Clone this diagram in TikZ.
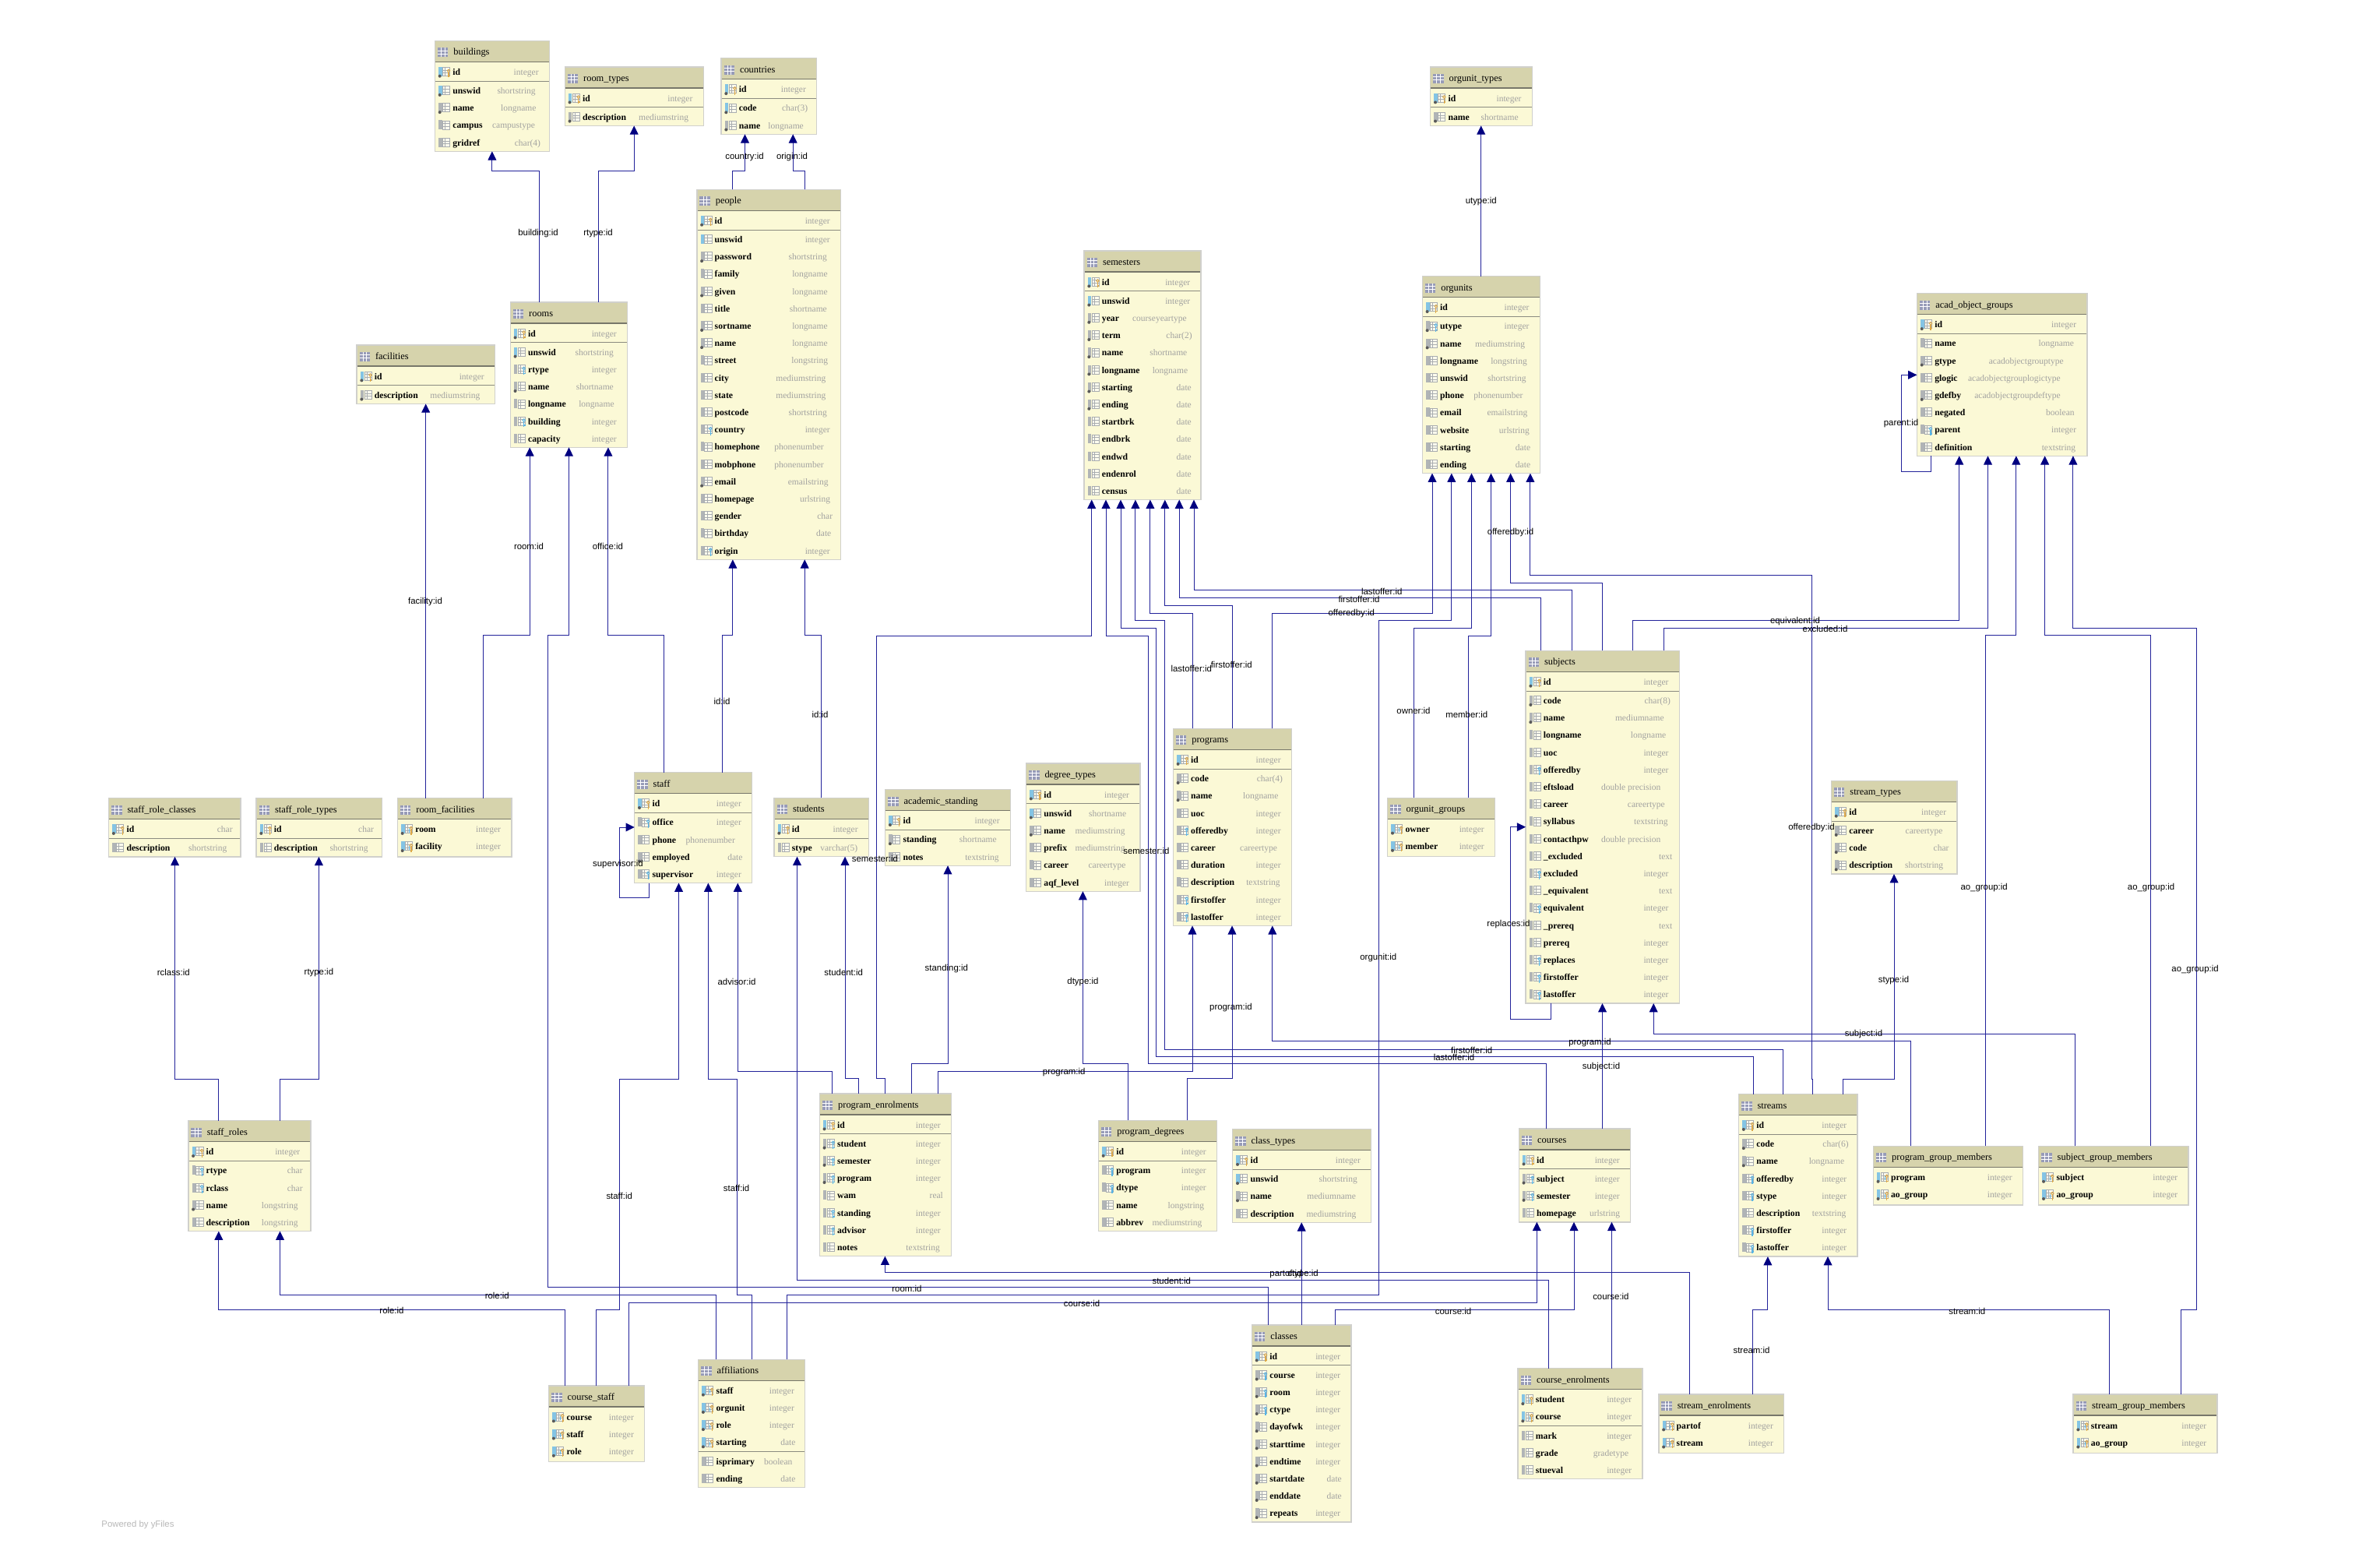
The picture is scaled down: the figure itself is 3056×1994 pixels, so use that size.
\documentclass[tikz,border=0pt]{standalone}
\usepackage{fontspec}
\setmainfont{Liberation Serif}
\newfontfamily\lblfont{Liberation Sans}
\usetikzlibrary{arrows.meta}
\definecolor{hdrc}{HTML}{D6D3AC}
\definecolor{bodyc}{HTML}{FBF9D6}
\definecolor{bordc}{HTML}{D0D0CC}
\definecolor{sepc}{HTML}{77776A}
\definecolor{navyc}{HTML}{22229A}
\definecolor{tipc}{HTML}{000080}
\definecolor{typec}{HTML}{A2A2A0}
\definecolor{barG}{HTML}{B0B4B6}
\definecolor{barB}{HTML}{84C4E4}
\definecolor{gridc}{HTML}{A8ACB0}
\definecolor{keyG}{HTML}{DCA848}
\definecolor{keyB}{HTML}{58B4E4}
\tikzset{
  tablebox/.style={draw=bordc,line width=.7pt,fill=bodyc,inner sep=0pt,outer sep=0pt,anchor=north west},
  titletext/.style={inner sep=0pt,anchor=base west,font=\fontsize{6.2}{7}\selectfont},
  colname/.style={inner sep=0pt,anchor=base west,font=\fontsize{5.85}{7}\selectfont\bfseries},
  coltype/.style={inner sep=0pt,anchor=base east,text=typec,font=\fontsize{5.75}{7}\selectfont},
  fk/.style={draw=navyc,line width=.5pt,-{Triangle[length=5.6pt,width=5.4pt,color=tipc]}},
  lbl/.style={inner sep=0pt,font=\lblfont\fontsize{5.7}{7}\selectfont},
}
\newcount\myrow
\newcount\mylab
\newcommand{\defoff}[2]{\expandafter\def\csname off@#1\endcsname{#2}}
\defoff{integer}{13.4}\defoff{shortstring}{17.3}\defoff{longname}{16.5}\defoff{campustype}{18}
\defoff{char(2)}{11}\defoff{char(3)}{11}\defoff{char(4)}{11}\defoff{char(6)}{11}\defoff{char(8)}{11}
\defoff{char}{10}\defoff{mediumstring}{18.8}\defoff{longstring}{16}\defoff{phonenumber}{21.4}
\defoff{emailstring}{15.6}\defoff{urlstring}{13}\defoff{date}{11.8}\defoff{mediumname}{19.2}
\defoff{double precision}{23.5}\defoff{careertype}{18}\defoff{textstring}{14.3}\defoff{text}{8.5}
\defoff{acadobjectgrouptype}{29.9}\defoff{acadobjectgrouplogictype}{33.7}\defoff{acadobjectgroupdeftype}{33.7}
\defoff{boolean}{15.9}\defoff{shortname}{17.3}\defoff{varchar(5)}{13.8}\defoff{real}{10.3}
\defoff{gradetype}{17.4}\defoff{courseyeartype}{18}
% icon pieces
\def\icgrid{\draw[gridc,fill=white,fill opacity=.6,line width=.25pt] (9.8,-6) rectangle (19,5);
  \draw[gridc,line width=.25pt] (9.8,-2.3)--(19,-2.3) (9.8,1.4)--(19,1.4) (13,-6)--(13,5);}
\def\icbarG{\fill[barG] (4.7,-6.5) rectangle (9.2,5.5);}
\def\icbarB{\fill[barB] (4.7,-6.5) rectangle (9.2,5.5);}
\def\icdot{\fill[black!65] (6.3,5.4) circle[radius=2];}
\def\ickeyG{\draw[keyG,line width=.45pt] (17.5,-1.5) circle[radius=1.8];
  \draw[keyG,line width=.6pt] (17.5,.3)--(17.5,7) (17.5,5)--(19.3,5);}
\def\ickeyB{\draw[keyB,line width=.45pt] (17.5,-1.5) circle[radius=1.8];
  \draw[keyB,line width=.6pt] (17.5,.3)--(17.5,7) (17.5,5)--(19.3,5);}
\def\ickeyBG{\draw[keyG,line width=.45pt] (17.5,-1.5) circle[radius=1.8];
  \draw[keyG,line width=.6pt] (17.5,.3)--(17.5,7) (17.5,5)--(19.3,5);
  \draw[keyB,line width=.5pt] (15,-1)--(15,4);}
\def\icP{\icbarB\icgrid\icdot\ickeyG}
\def\icK{\icbarB\icgrid\icdot\ickeyBG}
\def\icU{\icbarB\icgrid\icdot}
\def\icV{\icbarB\icgrid}
\def\icN{\icbarG\icgrid\icdot}
\def\icG{\icbarG\icgrid}
\def\icF{\icbarG\icgrid\ickeyB}
\def\icH{\icbarG\icgrid\icdot\ickeyB}
\newcommand{\rw}[3]{\global\advance\myrow by 1
  \pgfmathsetmacro\ry{\tabT+40+22.2*(\the\myrow-1)+(\the\myrow>\tabM?2:0)}
  \begin{scope}[shift={(\tabL,\ry)}]\csname ic#1\endcsname\end{scope}
  \node[colname] (\tabN-n\the\myrow) at ({\tabL+22.5},{\ry+4}) {#2};
  \node[coltype] (\tabN-t\the\myrow) at ({\tabR-\csname off@#3\endcsname},{\ry+4}) {#3};}
% name, left, right, top, title, rows, pk rows, row list
\newcommand{\tbl}[8]{\def\tabN{#1}\def\tabL{#2}\def\tabR{#3}\def\tabT{#4}\def\tabM{#7}
  \global\myrow=0
  \pgfmathsetmacro\tabW{#3-#2}\pgfmathsetmacro\tabH{27+22.2*#6+4}
  \node[tablebox,minimum width=\tabW*0.5pt,minimum height=\tabH*0.5pt] (#1) at (#2,#4) {};
  \fill[hdrc] ({#2+.7},{#4+.7}) rectangle ({#3-.7},{#4+27});
  \draw[sepc,line width=.6pt] ({#2+.7},{#4+27}) -- ({#3-.7},{#4+27});
  \ifnum#7<#6\relax
    \pgfmathsetmacro\sy{#4+27+13+22.2*(#7-1)+11.7}
    \draw[sepc!85,line width=.45pt] ({#2+.7},\sy) -- ({#3-.7},\sy);
  \fi
  \fill[gridc!90!blue] ({#2+3.5},{#4+9}) rectangle ({#2+17},{#4+21});
  \draw[white,line width=.25pt] ({#2+3.5},{#4+12.5})--({#2+17},{#4+12.5}) ({#2+3.5},{#4+16.7})--({#2+17},{#4+16.7})
     ({#2+8},{#4+9})--({#2+8},{#4+21}) ({#2+12.5},{#4+9})--({#2+12.5},{#4+21});
  \node[titletext] (#1-title) at ({#2+23.6},{#4+18.5}) {#5};
  #8}
\newcommand{\link}[5]{\draw[fk] (#2,0 |- #1.north) -- (#2,#3) -- (#4,#3) -- (#4,0 |- #5.south);}
\newcommand{\linkb}[7]{\draw[fk] (#2,0 |- #1.north) -- (#2,#3) -- (#4,#3) -- (#4,#5) -- (#6,#5) -- (#6,0 |- #7.south);}
\newcommand{\straight}[3]{\draw[fk] (#2,0 |- #1.north) -- (#2,0 |- #3.south);}
\newcommand{\selfloop}[5]{\draw[fk] (#2,0 |- #1.south) -- (#2,#3) -- (#4,#3) -- (#4,#5) -- (#1.west |- 0,#5);}
\newcommand{\lb}[3]{\global\advance\mylab by 1 \node[lbl] (lab\the\mylab) at (#1,#2) {#3};}
\begin{document}
\begin{tikzpicture}[x=0.5pt,y=-0.5pt]
\useasboundingbox (0,0) rectangle (3056,1994);
\fill[white] (0,0) rectangle (3056,1994);
\tbl{buildings}{558.4}{705.4}{52.3}{buildings}{5}{1}{\rw{P}{id}{integer}\rw{U}{unswid}{shortstring}\rw{N}{name}{longname}\rw{G}{campus}{campustype}\rw{G}{gridref}{char(4)}}
\tbl{roomtypes}{725.2}{903.2}{86}{room\_types}{2}{1}{\rw{P}{id}{integer}\rw{N}{description}{mediumstring}}
\tbl{countries}{926}{1048.7}{74.7}{countries}{3}{1}{\rw{P}{id}{integer}\rw{U}{code}{char(3)}\rw{N}{name}{longname}}
\tbl{people}{894.8}{1079.5}{243.3}{people}{20}{1}{\rw{P}{id}{integer}\rw{V}{unswid}{integer}\rw{N}{password}{shortstring}\rw{G}{family}{longname}\rw{N}{given}{longname}\rw{G}{title}{shortname}\rw{N}{sortname}{longname}\rw{N}{name}{longname}\rw{G}{street}{longstring}\rw{G}{city}{mediumstring}\rw{G}{state}{mediumstring}\rw{G}{postcode}{shortstring}\rw{F}{country}{integer}\rw{G}{homephone}{phonenumber}\rw{G}{mobphone}{phonenumber}\rw{N}{email}{emailstring}\rw{G}{homepage}{urlstring}\rw{G}{gender}{char}\rw{G}{birthday}{date}\rw{F}{origin}{integer}}
\tbl{rooms}{655.2}{805.5}{388}{rooms}{7}{1}{\rw{P}{id}{integer}\rw{U}{unswid}{shortstring}\rw{F}{rtype}{integer}\rw{N}{name}{shortname}\rw{G}{longname}{longname}\rw{F}{building}{integer}\rw{G}{capacity}{integer}}
\tbl{facilities}{458}{635.5}{443}{facilities}{2}{1}{\rw{P}{id}{integer}\rw{N}{description}{mediumstring}}
\tbl{srclasses}{139.6}{309}{1024.5}{staff\_role\_classes}{2}{1}{\rw{P}{id}{char}\rw{G}{description}{shortstring}}
\tbl{srtypes}{329}{490.4}{1024.5}{staff\_role\_types}{2}{1}{\rw{P}{id}{char}\rw{G}{description}{shortstring}}
\tbl{roomfac}{510.4}{656.8}{1024.5}{room\_facilities}{2}{2}{\rw{K}{room}{integer}\rw{K}{facility}{integer}}
\tbl{staff}{814.7}{965.7}{991.6}{staff}{5}{1}{\rw{P}{id}{integer}\rw{F}{office}{integer}\rw{G}{phone}{phonenumber}\rw{N}{employed}{date}\rw{F}{supervisor}{integer}}
\tbl{students}{994}{1115.4}{1024.3}{students}{2}{1}{\rw{P}{id}{integer}\rw{G}{stype}{varchar(5)}}
\tbl{acadstanding}{1136.6}{1297.4}{1013.6}{academic\_standing}{3}{1}{\rw{P}{id}{integer}\rw{N}{standing}{shortname}\rw{G}{notes}{textstring}}
\tbl{degreetypes}{1317.5}{1463.8}{980}{degree\_types}{6}{1}{\rw{P}{id}{integer}\rw{U}{unswid}{shortname}\rw{N}{name}{mediumstring}\rw{G}{prefix}{mediumstring}\rw{G}{career}{careertype}\rw{G}{aqf\_level}{integer}}
\tbl{programs}{1506.3}{1658.4}{935.4}{programs}{10}{1}{\rw{P}{id}{integer}\rw{N}{code}{char(4)}\rw{N}{name}{longname}\rw{G}{uoc}{integer}\rw{F}{offeredby}{integer}\rw{G}{career}{careertype}\rw{G}{duration}{integer}\rw{G}{description}{textstring}\rw{F}{firstoffer}{integer}\rw{F}{lastoffer}{integer}}
\tbl{semesters}{1392}{1542}{322}{semesters}{13}{1}{\rw{P}{id}{integer}\rw{U}{unswid}{integer}\rw{N}{year}{courseyeartype}\rw{N}{term}{char(2)}\rw{N}{name}{shortname}\rw{N}{longname}{longname}\rw{N}{starting}{date}\rw{N}{ending}{date}\rw{G}{startbrk}{date}\rw{G}{endbrk}{date}\rw{G}{endwd}{date}\rw{G}{endenrol}{date}\rw{G}{census}{date}}
\tbl{orgunittypes}{1836.7}{1967.3}{86}{orgunit\_types}{2}{1}{\rw{P}{id}{integer}\rw{N}{name}{shortname}}
\tbl{orgunits}{1826.3}{1977.3}{354.6}{orgunits}{10}{1}{\rw{P}{id}{integer}\rw{H}{utype}{integer}\rw{N}{name}{mediumstring}\rw{G}{longname}{longstring}\rw{G}{unswid}{shortstring}\rw{G}{phone}{phonenumber}\rw{G}{email}{emailstring}\rw{G}{website}{urlstring}\rw{G}{starting}{date}\rw{G}{ending}{date}}
\tbl{acad}{2461.4}{2679.9}{376.7}{acad\_object\_groups}{8}{1}{\rw{P}{id}{integer}\rw{G}{name}{longname}\rw{N}{gtype}{acadobjectgrouptype}\rw{G}{glogic}{acadobjectgrouplogictype}\rw{N}{gdefby}{acadobjectgroupdeftype}\rw{G}{negated}{boolean}\rw{F}{parent}{integer}\rw{G}{definition}{textstring}}
\tbl{ougroups}{1781.7}{1919.5}{1024.2}{orgunit\_groups}{2}{2}{\rw{K}{owner}{integer}\rw{K}{member}{integer}}
\tbl{subjects}{1959}{2156.2}{835.3}{subjects}{19}{1}{\rw{P}{id}{integer}\rw{N}{code}{char(8)}\rw{N}{name}{mediumname}\rw{G}{longname}{longname}\rw{G}{uoc}{integer}\rw{F}{offeredby}{integer}\rw{G}{eftsload}{double precision}\rw{G}{career}{careertype}\rw{G}{syllabus}{textstring}\rw{G}{contacthpw}{double precision}\rw{G}{\_excluded}{text}\rw{F}{excluded}{integer}\rw{G}{\_equivalent}{text}\rw{F}{equivalent}{integer}\rw{G}{\_prereq}{text}\rw{G}{prereq}{integer}\rw{F}{replaces}{integer}\rw{F}{firstoffer}{integer}\rw{F}{lastoffer}{integer}}
\tbl{streamtypes}{2351.4}{2512.9}{1002.3}{stream\_types}{4}{1}{\rw{P}{id}{integer}\rw{N}{career}{careertype}\rw{N}{code}{char}\rw{N}{description}{shortstring}}
\tbl{progenrol}{1052.2}{1221.6}{1404}{program\_enrolments}{8}{1}{\rw{P}{id}{integer}\rw{H}{student}{integer}\rw{H}{semester}{integer}\rw{H}{program}{integer}\rw{G}{wam}{real}\rw{F}{standing}{integer}\rw{F}{advisor}{integer}\rw{G}{notes}{textstring}}
\tbl{progdeg}{1410.4}{1562.6}{1438.4}{program\_degrees}{5}{1}{\rw{P}{id}{integer}\rw{F}{program}{integer}\rw{F}{dtype}{integer}\rw{G}{name}{longstring}\rw{G}{abbrev}{mediumstring}}
\tbl{classtypes}{1582.7}{1760.6}{1449.5}{class\_types}{4}{1}{\rw{P}{id}{integer}\rw{U}{unswid}{shortstring}\rw{N}{name}{mediumname}\rw{G}{description}{mediumstring}}
\tbl{courses}{1950.2}{2093.5}{1449}{courses}{4}{1}{\rw{P}{id}{integer}\rw{H}{subject}{integer}\rw{H}{semester}{integer}\rw{G}{homepage}{urlstring}}
\tbl{streams}{2232.5}{2385}{1404.5}{streams}{8}{1}{\rw{P}{id}{integer}\rw{N}{code}{char(6)}\rw{N}{name}{longname}\rw{F}{offeredby}{integer}\rw{F}{stype}{integer}\rw{G}{description}{textstring}\rw{F}{firstoffer}{integer}\rw{F}{lastoffer}{integer}}
\tbl{proggrp}{2405.2}{2597.5}{1471.4}{program\_group\_members}{2}{2}{\rw{K}{program}{integer}\rw{K}{ao\_group}{integer}}
\tbl{subjgrp}{2617.7}{2810}{1471.4}{subject\_group\_members}{2}{2}{\rw{K}{subject}{integer}\rw{K}{ao\_group}{integer}}
\tbl{streamgrp}{2662}{2847}{1790}{stream\_group\_members}{2}{2}{\rw{K}{stream}{integer}\rw{K}{ao\_group}{integer}}
\tbl{staffroles}{241.8}{399}{1438.6}{staff\_roles}{5}{1}{\rw{P}{id}{integer}\rw{F}{rtype}{char}\rw{F}{rclass}{char}\rw{N}{name}{longstring}\rw{G}{description}{longstring}}
\tbl{coursestaff}{704.6}{827.7}{1779}{course\_staff}{3}{3}{\rw{K}{course}{integer}\rw{K}{staff}{integer}\rw{K}{role}{integer}}
\tbl{affil}{896.6}{1033.7}{1745.3}{affiliations}{6}{4}{\rw{K}{staff}{integer}\rw{K}{orgunit}{integer}\rw{K}{role}{integer}\rw{K}{starting}{date}\rw{G}{isprimary}{boolean}\rw{G}{ending}{date}}
\tbl{classes}{1607.4}{1735}{1701}{classes}{10}{1}{\rw{P}{id}{integer}\rw{H}{course}{integer}\rw{H}{room}{integer}\rw{H}{ctype}{integer}\rw{N}{dayofwk}{integer}\rw{N}{starttime}{integer}\rw{N}{endtime}{integer}\rw{N}{startdate}{date}\rw{N}{enddate}{date}\rw{N}{repeats}{integer}}
\tbl{courseenrol}{1949}{2109}{1756.7}{course\_enrolments}{5}{2}{\rw{K}{student}{integer}\rw{K}{course}{integer}\rw{G}{mark}{integer}\rw{G}{grade}{gradetype}\rw{G}{stueval}{integer}}
\tbl{streamenrol}{2129.8}{2290.6}{1790}{stream\_enrolments}{2}{2}{\rw{K}{partof}{integer}\rw{K}{stream}{integer}}
% connectors
\link{rooms}{692.8}{219}{631.9}{buildings}
\link{rooms}{768.3}{219}{814.2}{roomtypes}
\link{people}{940.7}{219}{956.5}{countries}
\link{people}{1033.6}{219}{1018.2}{countries}
\straight{roomfac}{546.7}{facilities}
\straight{orgunits}{1901.7}{orgunittypes}
\link{roomfac}{620}{815.7}{680.2}{rooms}
\link{staff}{852}{815.7}{780.9}{rooms}
\link{staff}{927.9}{815.7}{940.9}{people}
\link{students}{1054}{815.7}{1033.2}{people}
\linkb{classes}{1628}{1652.3}{703.7}{815.7}{730.5}{rooms}
\linkb{coursestaff}{765.8}{1681.7}{795.7}{1385.4}{871.5}{staff}
\linkb{affil}{965.4}{1662.3}{946.7}{1385.4}{909.4}{staff}
\link{progenrol}{1068.3}{1375.5}{947.3}{staff}
\link{progenrol}{1102.2}{1384.8}{1085}{students}
\link{courseenrol}{1988}{1643}{1023.5}{students}
\link{progenrol}{1170.5}{1365.7}{1217}{acadstanding}
\linkb{progenrol}{1136.6}{1384.8}{1125.7}{816}{1401.7}{semesters}
\link{progenrol}{1204.4}{1375.6}{1531}{programs}
\link{progdeg}{1524.7}{1384.8}{1582}{programs}
\link{proggrp}{2453}{1336.7}{1633.8}{programs}
\link{progdeg}{1448.3}{1365.7}{1390.4}{degreetypes}
\linkb{courses}{1985.7}{1365.7}{1474.7}{816}{1420}{semesters}
\linkb{streams}{2251.5}{1356.3}{1484.9}{806.4}{1439}{semesters}
\linkb{streams}{2289.5}{1347}{1495.8}{796.5}{1457.9}{semesters}
\link{programs}{1531.4}{787}{1476.9}{semesters}
\link{programs}{1582.5}{777.3}{1495.8}{semesters}
\link{subjects}{1978.4}{767.8}{1514.2}{semesters}
\link{subjects}{2018}{757.8}{1533}{semesters}
\link{programs}{1633.6}{787}{1839}{orgunits}
\linkb{affil}{1010.7}{1662.3}{1770.7}{796.5}{1863.8}{orgunits}
\link{ougroups}{1815.6}{806.4}{1889.5}{orgunits}
\link{ougroups}{1885}{816}{1914.5}{orgunits}
\link{subjects}{2057.3}{748.3}{1939.6}{orgunits}
\linkb{streams}{2327.4}{1385.7}{2326.3}{738.3}{1964.9}{orgunits}
\link{subjects}{2096.8}{796.5}{2515.7}{acad}
\link{subjects}{2136.4}{806.4}{2552.5}{acad}
\link{proggrp}{2549.7}{815.7}{2588.8}{acad}
\link{subjgrp}{2761.7}{815.7}{2625.6}{acad}
\linkb{streamgrp}{2800.8}{1681.6}{2820.4}{806}{2661.9}{acad}
\straight{courses}{2057.5}{subjects}
\link{subjgrp}{2664.8}{1327.3}{2123.2}{subjects}
\link{streamenrol}{2250.8}{1681.7}{2269.9}{streams}
\link{streamgrp}{2708.3}{1681.6}{2347}{streams}
\link{streams}{2366}{1385.7}{2432}{streamtypes}
\link{classes}{1714.3}{1681.7}{2021}{courses}
\link{coursestaff}{807.3}{1672}{1973.3}{courses}
\straight{courseenrol}{2069.5}{courses}
\straight{classes}{1671.2}{classtypes}
\link{streamenrol}{2169.6}{1633.4}{1136.4}{progenrol}
\link{coursestaff}{725}{1681.7}{280.8}{staffroles}
\link{affil}{919.5}{1662.3}{359.5}{staffroles}
\link{staffroles}{280.8}{1385.4}{224.6}{srclasses}
\link{staffroles}{359.5}{1385.4}{409.4}{srtypes}
\selfloop{staff}{833.6}{1152.3}{795.2}{1062}
\selfloop{subjects}{1991.4}{1308}{1939.6}{1061.7}
\selfloop{acad}{2479.4}{605.3}{2441.5}{481.3}
% labels
\lb{691}{300}{building:id}\lb{768}{300}{rtype:id}\lb{956}{202}{country:id}\lb{1017}{202}{origin:id}
\lb{1901.7}{258.6}{utype:id}\lb{546}{773}{facility:id}\lb{679}{701}{room:id}\lb{780.4}{701}{office:id}
\lb{927}{900}{id:id}\lb{1053}{917}{id:id}\lb{222.8}{1248.4}{rclass:id}\lb{409.4}{1248.4}{rtype:id}
\lb{793.5}{1109.5}{supervisor:id}\lb{946}{1260}{advisor:id}\lb{795.2}{1535.4}{staff:id}\lb{945.6}{1525}{staff:id}
\lb{1123.4}{1102.4}{semester:id}\lb{1471.9}{1092}{semester:id}\lb{1083.2}{1248}{student:id}\lb{1215.3}{1244}{standing:id}
\lb{1390.4}{1261}{dtype:id}\lb{1580.4}{1293.3}{program:id}\lb{1366.2}{1377}{program:id}\lb{1769.8}{1230}{orgunit:id}
\lb{1529.7}{858}{lastoffer:id}\lb{1581.3}{853}{firstoffer:id}\lb{1774.2}{759.4}{lastoffer:id}\lb{1745}{769.3}{firstoffer:id}
\lb{1735.2}{788}{offeredby:id}\lb{1939.6}{684}{offeredby:id}\lb{1815}{912}{owner:id}\lb{1883.3}{917}{member:id}
\lb{1937}{1186.4}{replaces:id}\lb{2305}{798}{equivalent:id}\lb{2343.5}{807}{excluded:id}\lb{2441}{544}{parent:id}
\lb{2326}{1063}{offeredby:id}\lb{2431.5}{1259}{stype:id}\lb{2393}{1328}{subject:id}\lb{2041.5}{1338.4}{program:id}
\lb{2056}{1370}{subject:id}\lb{2547.6}{1140}{ao\_group:id}\lb{2762}{1140}{ao\_group:id}\lb{2818.5}{1245}{ao\_group:id}
\lb{1889.6}{1348}{firstoffer:id}\lb{1867}{1357.2}{lastoffer:id}\lb{503}{1682}{role:id}\lb{638.3}{1663.3}{role:id}
\lb{1164.4}{1654.3}{room:id}\lb{1504.3}{1644}{student:id}\lb{1389}{1673}{course:id}\lb{1866}{1683.3}{course:id}
\lb{1651}{1636}{partof:id}\lb{1673}{1636}{ctype:id}\lb{2068.4}{1664}{course:id}\lb{2249}{1733}{stream:id}\lb{2525.8}{1683}{stream:id}
\node[lbl,anchor=west,text=black!28] (yfiles) at (130,1958) {Powered by yFiles};
\end{tikzpicture}
\end{document}
